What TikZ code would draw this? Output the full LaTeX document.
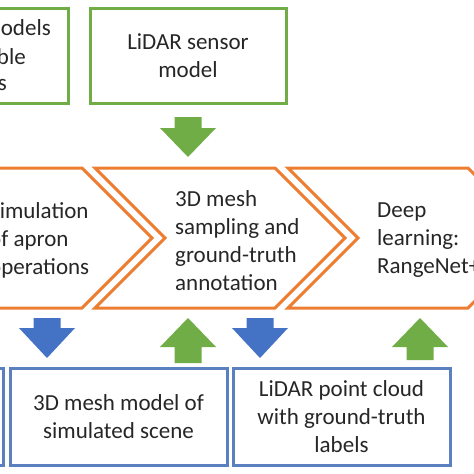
\documentclass[tikz,border=0pt]{standalone}
\usepackage{fontspec}
\setmainfont{Carlito}
\usepackage{xcolor}

\definecolor{pgreen}{HTML}{70AD47}
\definecolor{porange}{HTML}{ED7D31}
\definecolor{pblue}{HTML}{5B80C0}
\definecolor{ablue}{HTML}{4472C4}

% chevron with its top left corner at x = #1
\newcommand{\chev}[1]{\draw[chevline] (#1,168) -- (#1+180,168) -- (#1+250,238) -- (#1+180,308) -- (#1,308) -- (#1+70,238) -- cycle;}
% block arrows: #1 colour, #2 x, #3 tail y, #4 head base y, #5 tip y
\newcommand{\blockarr}[5]{\fill[#1] (#2-13.5,#3) -- (#2+13.5,#3) -- (#2+13.5,#4) -- (#2+28,#4) -- (#2,#5) -- (#2-28,#4) -- (#2-13.5,#4) -- cycle;}

\begin{document}
\begin{tikzpicture}
			[x=1pt,y=-1pt,
			every node/.style={font=\fontsize{23}{28}\selectfont, text=black!85},
			greenbox/.style={draw=pgreen, line width=3pt, minimum width=196pt, minimum height=95pt, align=center},
			bluebox/.style={draw=pblue, line width=3pt, minimum width=217pt, minimum height=97pt, align=center},
			chevline/.style={draw=porange, line width=3pt},
			chevtext/.style={anchor=west, align=left, inner sep=0pt}]
			\useasboundingbox (0,0) rectangle (474,474);
			\clip (0,0) rectangle (474,474);
			% top inputs
			\node[greenbox] (models) at (-30,55.5) {};
			\node[anchor=east, inner sep=0pt] (models1) at (51,28) {odels};
			\node[anchor=east, inner sep=0pt] (models2) at (26,57) {ble};
			\node[anchor=east, inner sep=0pt] (models3) at (7,85) {s};
			\node[greenbox] (sensor) at (188,55.5) {LiDAR sensor\\model};
			% process chain
			\chev{-98}
			\chev{95}
			\chev{288}
			\node[chevtext] (simul) at (-11,240) {Simulation\\of apron\\operations};
			\node[chevtext] (sampling) at (175,241) {3D mesh\\sampling and\\ground-truth\\annotation};
			\node[chevtext] (deep) at (377,240) {Deep\\learning:\\RangeNet++};
			% bottom outputs
			\node[bluebox] (prev) at (-105.5,416.5) {};
			\node[bluebox] (mesh) at (118.5,416.5) {3D mesh model of\\simulated scene};
			\node[bluebox] (cloud) at (341.5,416.5) {LiDAR point cloud\\with ground-truth\\labels};
			% block arrows
			\blockarr{pgreen}{188}{117}{128}{157}
			\blockarr{ablue}{47}{318}{328}{358}
			\blockarr{pgreen}{188}{363}{347}{318}
			\blockarr{ablue}{260}{318}{328}{358}
			\blockarr{pgreen}{420}{360}{347}{318}
		\end{tikzpicture}
\end{document}
